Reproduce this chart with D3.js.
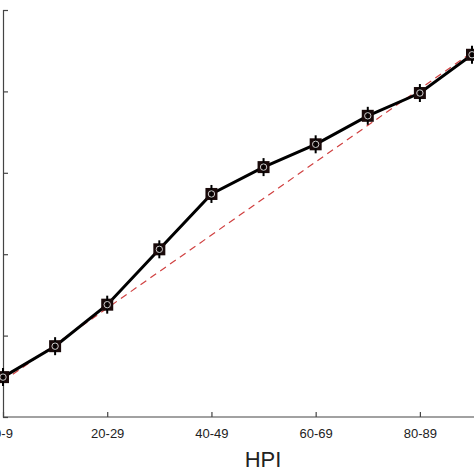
<!DOCTYPE html>
<html><head><meta charset="utf-8">
<script src="https://cdn.jsdelivr.net/npm/d3@7"></script>
<style>body{margin:0;background:#fff}</style>
</head><body><div id="chart"></div>
<script>
var categories = ["0-9","10-19","20-29","30-39","40-49","50-59","60-69","70-79","80-89","90-99"];
var values = [0.49, 0.87, 1.38, 2.06, 2.74, 3.07, 3.35, 3.70, 3.98, 4.45];
var fitValues = [0.44, 4.48];
var yTicks = [0, 1, 2, 3, 4, 5];
var xTickLabels = ["0-9","20-29","40-49","60-69","80-89"];

var width = 474, height = 474;
var svg = d3.select("#chart").append("svg")
	.attr("width", width)
	.attr("height", height);

var x = d3.scalePoint().domain(categories).range([3, 472]);
var y = d3.scaleLinear().domain([0, 5]).range([417, 10]);

var xAxis = svg.append("g")
	.attr("transform", "translate(0,417)")
	.call(d3.axisBottom(x).tickValues(xTickLabels).tickSize(-5).tickPadding(12));
xAxis.select(".domain").attr("d", "M3,0H474");
var yAxis = svg.append("g")
	.attr("transform", "translate(3,0)")
	.call(d3.axisLeft(y).tickValues(yTicks).tickSize(-5).tickFormat(""));
svg.selectAll(".domain, .tick line").attr("stroke", "#444").attr("stroke-width", 1.2);
svg.selectAll(".tick text").attr("font-family", "Liberation Sans, Arial").attr("font-size", 13).attr("fill", "#222");

svg.append("text")
	.attr("x", 263).attr("y", 467)
	.attr("text-anchor", "middle")
	.attr("font-family", "Liberation Sans, Arial")
	.attr("font-size", 22).attr("fill", "#222")
	.text("HPI");

// linear fit
svg.append("line")
	.attr("x1", x(categories[0])).attr("y1", y(fitValues[0]))
	.attr("x2", x(categories[categories.length - 1])).attr("y2", y(fitValues[1]))
	.attr("stroke", "#d04040").attr("stroke-width", 1.2)
	.attr("stroke-dasharray", "7,5");

var line = d3.line()
	.x(function(d, i){ return x(categories[i]); })
	.y(function(d){ return y(d); });
svg.append("path").datum(values)
	.attr("d", line)
	.attr("fill", "none").attr("stroke", "#000").attr("stroke-width", 3);

var pts = svg.selectAll("g.pt").data(values).enter().append("g")
	.attr("transform", function(d, i){ return "translate(" + x(categories[i]) + "," + y(d) + ")"; });
pts.append("rect")
	.attr("x", -6).attr("y", -6).attr("width", 12).attr("height", 12)
	.attr("fill", "#1a0a0a");
pts.append("line").attr("x1", 0).attr("x2", 0).attr("y1", -9).attr("y2", 9)
	.attr("stroke", "#000").attr("stroke-width", 2);
pts.append("circle").attr("r", 3.2)
	.attr("fill", "none").attr("stroke", "#ccc").attr("stroke-width", 1);
</script>
</body></html>
